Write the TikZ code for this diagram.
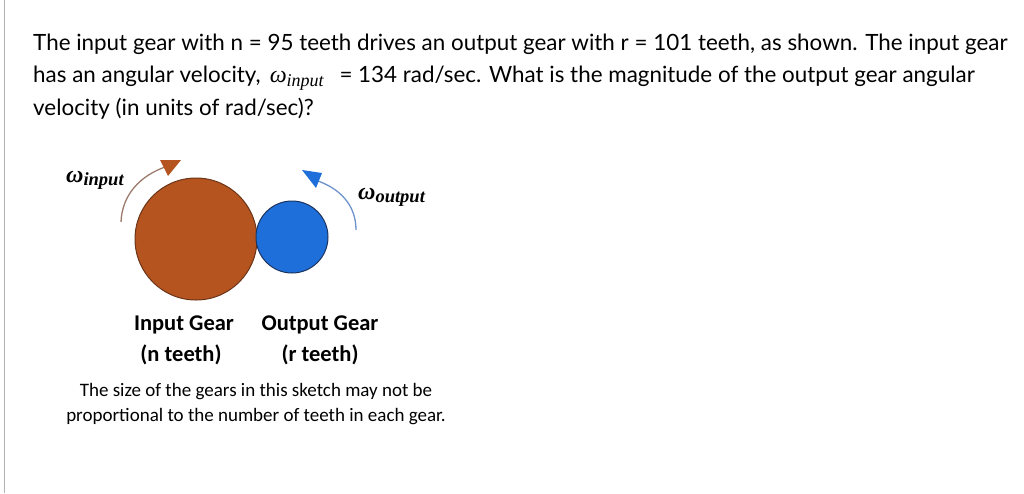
\documentclass[tikz,border=0pt]{standalone}
\usepackage{fontspec}
\setmainfont{Lato}
\newfontfamily\calib{Carlito}
\newfontfamily\libser{Liberation Serif}
\definecolor{brownfill}{HTML}{B5541E}
\definecolor{brownline}{HTML}{6B3418}
\definecolor{bluefill}{HTML}{1F6FDB}
\definecolor{blueline}{HTML}{1B3560}
\definecolor{brownarc}{HTML}{9C7A6C}
\definecolor{bluearc}{HTML}{6E93CC}
\tikzset{
  qtext/.style={anchor=base west, inner sep=0pt, font=\fontsize{22.4}{26}\selectfont},
  geartext/.style={anchor=base, inner sep=0pt, font=\calib\bfseries\fontsize{22.5}{26}\selectfont},
  notetext/.style={anchor=base, inner sep=0pt, font=\calib\fontsize{19}{22}\selectfont},
  omegalab/.style={anchor=base west, inner sep=0pt, font=\libser\bfseries\itshape\fontsize{24}{28}\selectfont},
  gearin/.style={circle, fill=brownfill, draw=brownline, line width=1pt, inner sep=0pt},
  gearout/.style={circle, fill=bluefill, draw=blueline, line width=1pt, inner sep=0pt},
}
\begin{document}
\begin{tikzpicture}[x=1pt,y=-1pt]
\useasboundingbox (0,0) rectangle (1024,493);
\fill[white] (0,0) rectangle (1024,493);
\draw[gray!60, line width=1pt] (4,0) -- (4,493);
% question text
\node[qtext] (q1) at (33,50) {The input gear with n = 95 teeth drives an output gear with r = 101 teeth, as shown. The input gear};
\node[qtext] (q2) at (33,82) {has an angular velocity,\hspace{0.15em} {\libser\itshape\fontsize{24}{26}\selectfont ω\raisebox{-0.4ex}{\fontsize{18}{20}\selectfont input}}\hspace{0.45em} = 134 rad/sec. What is the magnitude of the output gear angular};
\node[qtext] (q3) at (33,115) {velocity (in units of rad/sec)?};
% gears
\node[gearin, minimum size=122pt] (gin) at (196,239) {};
\node[gearout, minimum size=72pt] (gout) at (292,237) {};
% rotation arrows
\coordinate (ainS) at (121,222);
\coordinate (ainE) at (180,161);
\draw[brownarc, line width=1.3pt] (ainS) .. controls (122,195) and (140,175) .. (168,166);
\fill[brownfill] (181,160) -- (160,160) -- (168,176) -- cycle;
\coordinate (aoutS) at (356,230);
\coordinate (aoutE) at (302,172);
\draw[bluearc, line width=1.3pt] (aoutS) .. controls (356,205) and (340,188) .. (315,180);
\fill[bluefill] (302,170) -- (322,173) -- (316,188) -- cycle;
% omega labels
\node[omegalab] (win) at (66,182) {ω\raisebox{-0.3ex}{\fontsize{18.5}{20}\selectfont input}};
\node[omegalab] (wout) at (358,199) {ω\raisebox{-0.3ex}{\fontsize{18.5}{20}\selectfont output}};
% gear labels
\node[geartext] (lin) at (184,330) {Input Gear};
\node[geartext] (lout) at (320,330) {Output Gear};
\node[geartext] (tin) at (181,361) {(n teeth)};
\node[geartext] (tout) at (320,361) {(r teeth)};
\node[notetext] (n1) at (256,396) {The size of the gears in this sketch may not be};
\node[notetext] (n2) at (256,421) {proportional to the number of teeth in each gear.};
\end{tikzpicture}
\end{document}
